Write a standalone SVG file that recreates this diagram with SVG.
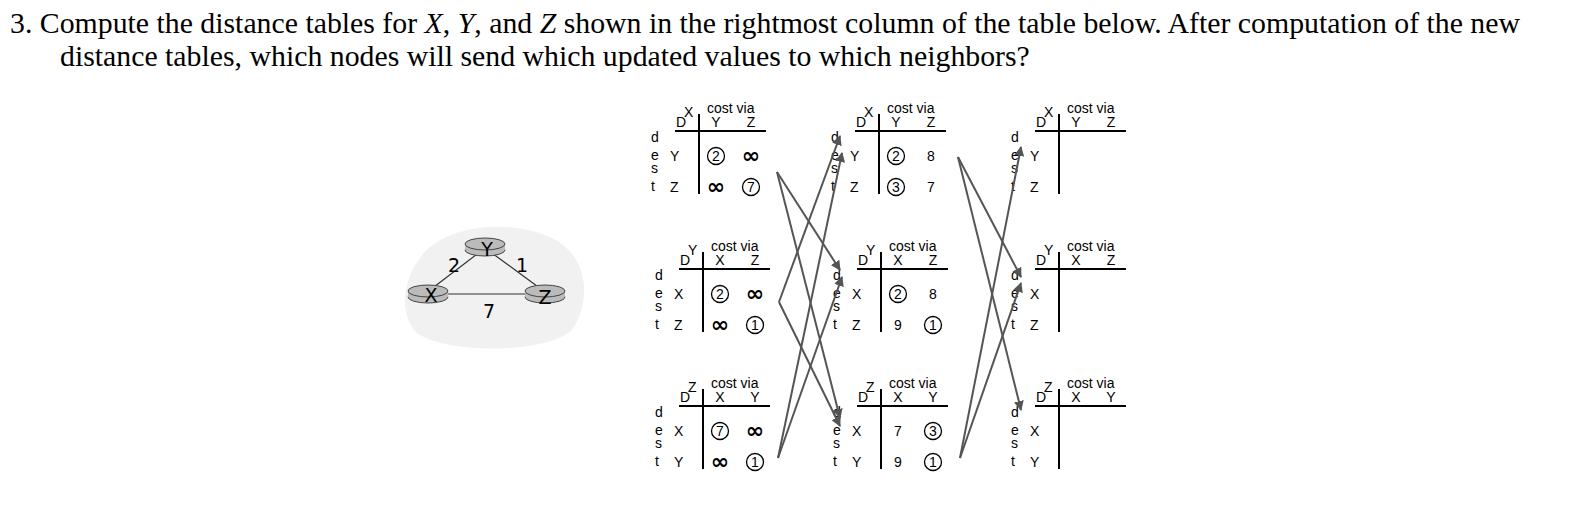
<svg xmlns="http://www.w3.org/2000/svg" width="1582" height="506" viewBox="0 0 1582 506">
<defs>
<style>
.q{font-family:"Liberation Serif",serif;font-size:29.8px;fill:#000}
.s{font-family:"Liberation Sans",Arial,sans-serif;font-size:14px;fill:#000}
.sb{font-family:"Liberation Sans",Arial,sans-serif;font-size:14px;fill:#000;text-anchor:middle}
.inf{font-family:"DejaVu Sans",sans-serif;font-size:22px;font-weight:bold;fill:#000;text-anchor:middle}
.ln{stroke:#000;stroke-width:2;fill:none}
.c{stroke:#000;stroke-width:1.3;fill:none}
.ar{stroke:#555;stroke-width:2;fill:none;marker-end:url(#ah)}
.rt{fill:#bbb;stroke:#444;stroke-width:1}
.rl{font-family:"DejaVu Sans",sans-serif;font-size:19px;fill:#000;text-anchor:middle}
</style>
<marker id="ah" viewBox="0 0 10 10" refX="9" refY="5" markerWidth="5" markerHeight="5" orient="auto"><path d="M0,0 L10,5 L0,10 z" fill="#555"/></marker>
<g id="tbl">
<text class="s" x="707" y="113">cost via</text>
<text class="s" x="676" y="127">D</text>
<line class="ln" x1="675" y1="131" x2="766" y2="131"/>
<line class="ln" x1="699" y1="114" x2="699" y2="194"/>
<text class="s" x="651" y="142">d</text>
<text class="s" x="651" y="160">e</text>
<text class="s" x="651" y="173">s</text>
<text class="s" x="651" y="191">t</text>
</g>
</defs>
<rect width="1582" height="506" fill="#fff"/>
<text class="q" x="10" y="33">3.   Compute the distance tables for <tspan font-style="italic">X</tspan>, <tspan font-style="italic">Y</tspan>, and <tspan font-style="italic">Z</tspan> shown in the rightmost column of the table below. After computation of the new</text>
<text class="q" x="60" y="66">distance tables, which nodes will send which updated values to which neighbors?</text>

<g id="network">
<path d="M420,258 C440,228 500,218 545,235 C590,252 592,300 572,330 C545,354 450,354 418,334 C398,315 403,280 420,258 z" fill="#f1f1f1"/>
<line x1="430" y1="290" x2="485" y2="248" stroke="#333" stroke-width="1.2"/>
<line x1="485" y1="248" x2="545" y2="292" stroke="#333" stroke-width="1.2"/>
<line x1="430" y1="294" x2="545" y2="294" stroke="#333" stroke-width="1.2"/>
<g><ellipse class="rt" cx="485" cy="250" rx="20" ry="6"/><rect x="465" y="244" width="40" height="6" fill="#bbb"/><ellipse class="rt" cx="485" cy="244" rx="20" ry="6"/><text class="rl" x="487" y="256">Y</text></g>
<g><ellipse class="rt" cx="428" cy="297" rx="20" ry="6"/><rect x="408" y="291" width="40" height="6" fill="#bbb"/><ellipse class="rt" cx="428" cy="291" rx="20" ry="6"/><text class="rl" x="431" y="302">X</text></g>
<g><ellipse class="rt" cx="545" cy="297" rx="20" ry="6"/><rect x="525" y="291" width="40" height="6" fill="#bbb"/><ellipse class="rt" cx="545" cy="291" rx="20" ry="6"/><text class="rl" x="545" y="304">Z</text></g>
<text class="rl" x="454" y="272" font-size="16">2</text>
<text class="rl" x="522" y="272" font-size="16">1</text>
<text class="rl" x="489" y="318" font-size="16">7</text>
</g>

<!-- Column 1 -->
<g id="t1x"><use href="#tbl"/><text class="s" x="684" y="117" font-size="13">X</text>
<text class="sb" x="716" y="127">Y</text><text class="sb" x="751" y="127">Z</text>
<text class="s" x="670" y="161">Y</text><text class="s" x="670" y="192">Z</text>
<circle class="c" cx="716" cy="156" r="8.5"/><text class="sb" x="716" y="161">2</text><text class="inf" x="751" y="163">∞</text>
<text class="inf" x="716" y="194">∞</text><circle class="c" cx="751" cy="187" r="8.5"/><text class="sb" x="751" y="192">7</text></g>
<g id="t1y" transform="translate(4,138)"><use href="#tbl"/><text class="s" x="684" y="117" font-size="13">Y</text>
<text class="sb" x="716" y="127">X</text><text class="sb" x="751" y="127">Z</text>
<text class="s" x="670" y="161">X</text><text class="s" x="670" y="192">Z</text>
<circle class="c" cx="716" cy="156" r="8.5"/><text class="sb" x="716" y="161">2</text><text class="inf" x="751" y="163">∞</text>
<text class="inf" x="716" y="194">∞</text><circle class="c" cx="751" cy="187" r="8.5"/><text class="sb" x="751" y="192">1</text></g>
<g id="t1z" transform="translate(4,275)"><use href="#tbl"/><text class="s" x="684" y="117" font-size="13">Z</text>
<text class="sb" x="716" y="127">X</text><text class="sb" x="751" y="127">Y</text>
<text class="s" x="670" y="161">X</text><text class="s" x="670" y="192">Y</text>
<circle class="c" cx="716" cy="156" r="8.5"/><text class="sb" x="716" y="161">7</text><text class="inf" x="751" y="163">∞</text>
<text class="inf" x="716" y="194">∞</text><circle class="c" cx="751" cy="187" r="8.5"/><text class="sb" x="751" y="192">1</text></g>

<!-- Column 2 -->
<g id="t2x" transform="translate(180,0)"><use href="#tbl"/><text class="s" x="684" y="117" font-size="13">X</text>
<text class="sb" x="716" y="127">Y</text><text class="sb" x="751" y="127">Z</text>
<text class="s" x="670" y="161">Y</text><text class="s" x="670" y="192">Z</text>
<circle class="c" cx="716" cy="156" r="8.5"/><text class="sb" x="716" y="161">2</text><text class="sb" x="751" y="161">8</text>
<circle class="c" cx="716" cy="187" r="8.5"/><text class="sb" x="716" y="192">3</text><text class="sb" x="751" y="192">7</text></g>
<g id="t2y" transform="translate(182,138)"><use href="#tbl"/><text class="s" x="684" y="117" font-size="13">Y</text>
<text class="sb" x="716" y="127">X</text><text class="sb" x="751" y="127">Z</text>
<text class="s" x="670" y="161">X</text><text class="s" x="670" y="192">Z</text>
<circle class="c" cx="716" cy="156" r="8.5"/><text class="sb" x="716" y="161">2</text><text class="sb" x="751" y="161">8</text>
<text class="sb" x="716" y="192">9</text><circle class="c" cx="751" cy="187" r="8.5"/><text class="sb" x="751" y="192">1</text></g>
<g id="t2z" transform="translate(182,275)"><use href="#tbl"/><text class="s" x="684" y="117" font-size="13">Z</text>
<text class="sb" x="716" y="127">X</text><text class="sb" x="751" y="127">Y</text>
<text class="s" x="670" y="161">X</text><text class="s" x="670" y="192">Y</text>
<text class="sb" x="716" y="161">7</text><circle class="c" cx="751" cy="156" r="8.5"/><text class="sb" x="751" y="161">3</text>
<text class="sb" x="716" y="192">9</text><circle class="c" cx="751" cy="187" r="8.5"/><text class="sb" x="751" y="192">1</text></g>

<!-- Column 3 -->
<g id="t3x" transform="translate(360,0)"><use href="#tbl"/><text class="s" x="684" y="117" font-size="13">X</text>
<text class="sb" x="716" y="127">Y</text><text class="sb" x="751" y="127">Z</text>
<text class="s" x="670" y="161">Y</text><text class="s" x="670" y="192">Z</text></g>
<g id="t3y" transform="translate(360,138)"><use href="#tbl"/><text class="s" x="684" y="117" font-size="13">Y</text>
<text class="sb" x="716" y="127">X</text><text class="sb" x="751" y="127">Z</text>
<text class="s" x="670" y="161">X</text><text class="s" x="670" y="192">Z</text></g>
<g id="t3z" transform="translate(360,275)"><use href="#tbl"/><text class="s" x="684" y="117" font-size="13">Z</text>
<text class="sb" x="716" y="127">X</text><text class="sb" x="751" y="127">Y</text>
<text class="s" x="670" y="161">X</text><text class="s" x="670" y="192">Y</text></g>

<g id="connectors">
<line class="ar" x1="777" y1="172" x2="840" y2="270"/>
<line class="ar" x1="777" y1="172" x2="840" y2="418"/>
<line class="ar" x1="779" y1="302" x2="840" y2="136"/>
<line class="ar" x1="779" y1="302" x2="840" y2="426"/>
<line class="ar" x1="778" y1="458" x2="842" y2="153"/>
<line class="ar" x1="778" y1="458" x2="842" y2="277"/>
<line class="ar" x1="958" y1="157" x2="1021" y2="277"/>
<line class="ar" x1="958" y1="157" x2="1021" y2="410"/>
<line class="ar" x1="960" y1="458" x2="1021" y2="147"/>
<line class="ar" x1="960" y1="458" x2="1021" y2="283"/>
</g>
</svg>
